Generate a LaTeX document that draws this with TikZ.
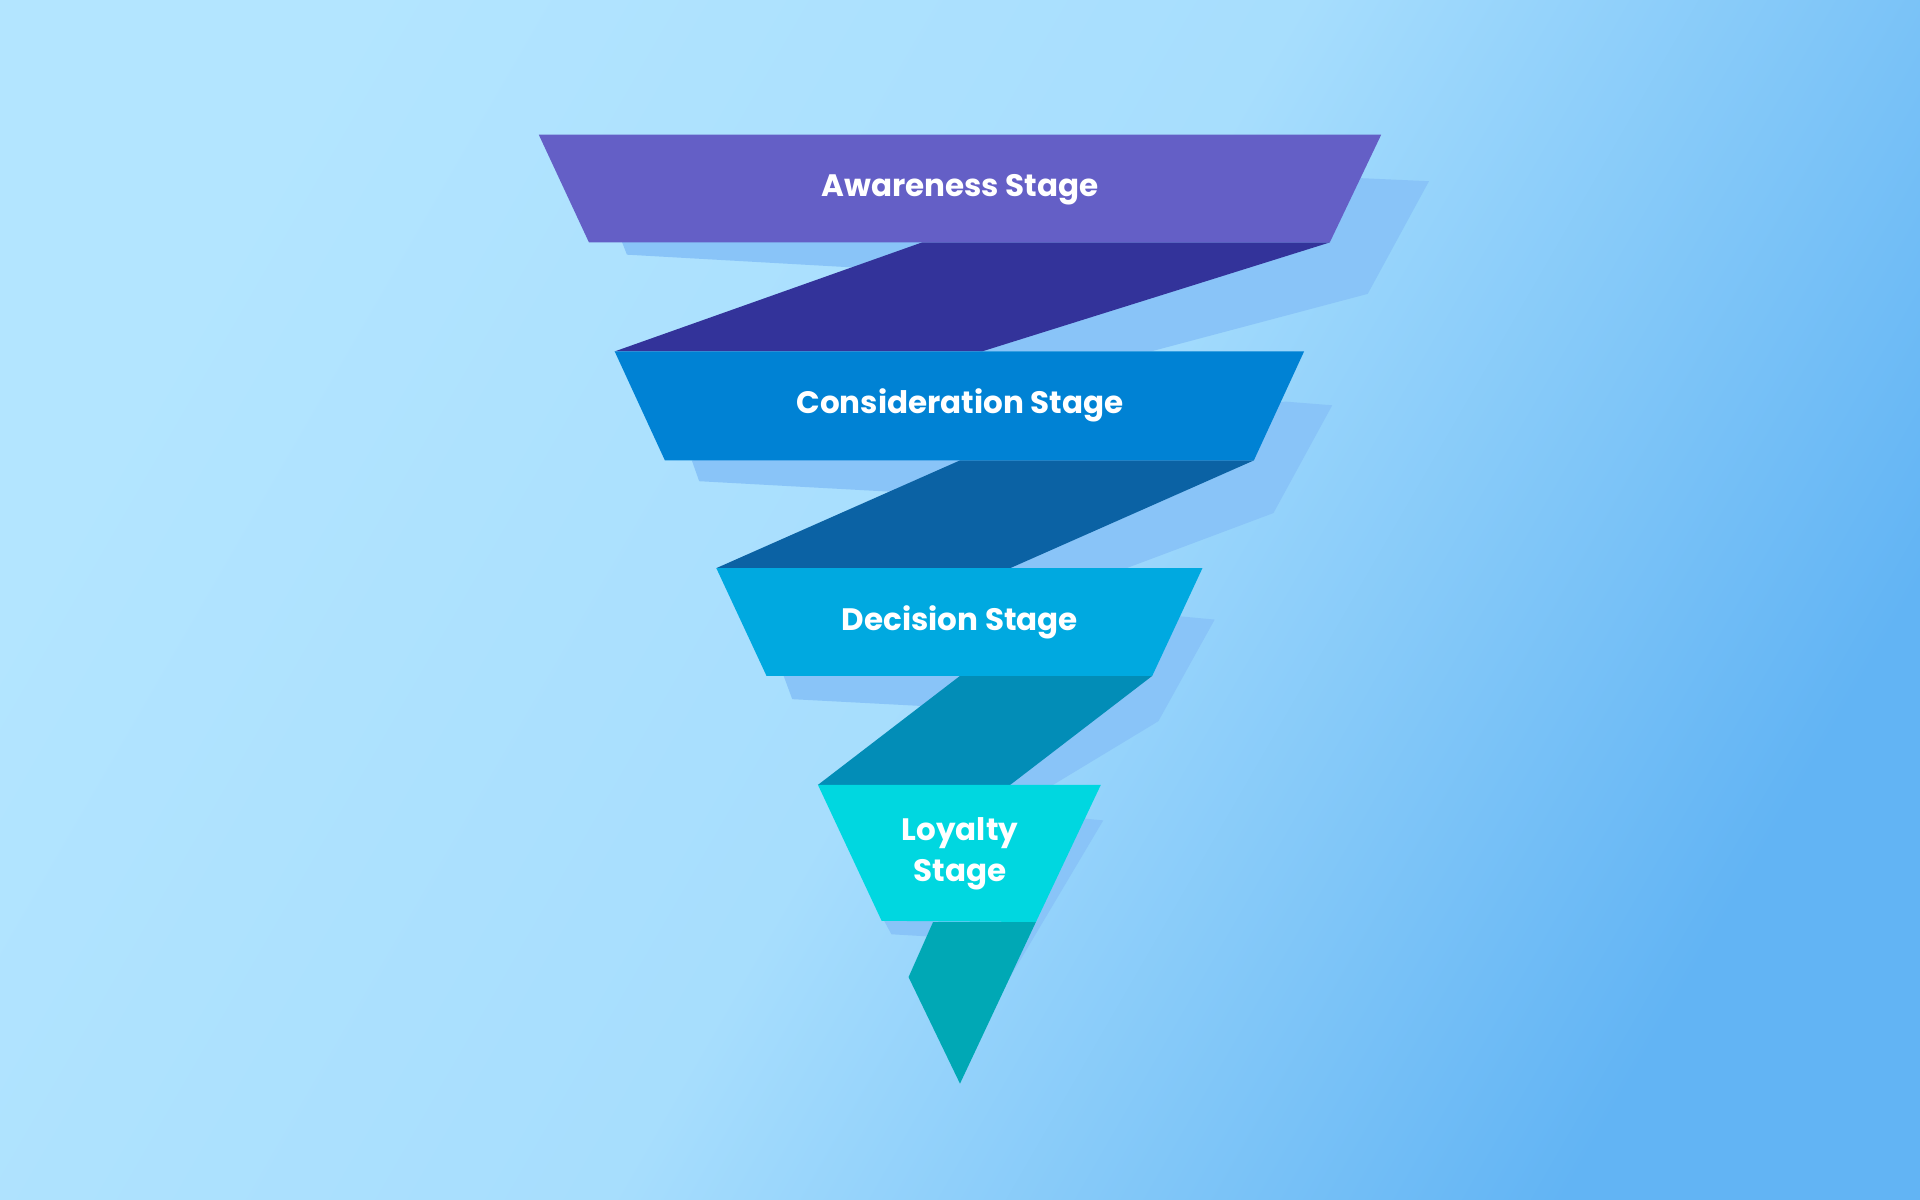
\documentclass[tikz,border=0pt]{standalone}
\usepackage{fontspec}
\setmainfont{Poppins}
\usetikzlibrary{positioning}
\definecolor{bglight}{HTML}{B3E5FF}
\definecolor{bgdark}{HTML}{62B4F4}
\definecolor{shadowblue}{HTML}{89C4F8}
\definecolor{awarecol}{HTML}{645FC6}
\definecolor{awarefold}{HTML}{33339A}
\definecolor{considcol}{HTML}{0082D4}
\definecolor{considfold}{HTML}{0B62A4}
\definecolor{decidecol}{HTML}{00A9E0}
\definecolor{decidefold}{HTML}{028DB7}
\definecolor{loyalcol}{HTML}{00D7E0}
\definecolor{loyalfold}{HTML}{00A8B5}

\begin{document}
\begin{tikzpicture}[x=0.01cm, y=-0.01cm,
        shadowpart/.style={fill=shadowblue},
        label/.style={text=white, font=\bfseries\fontsize{7.2}{9.5}\selectfont, align=center}
    ]
        % Background
        \useasboundingbox (0,0) rectangle (1568,980);
        \shade[shading=axis, left color=bglight, right color=bgdark, middle color=bglight!85!bgdark, shading angle=60] (0,0) rectangle (1568,980);

        % Shadows
        \fill[shadowpart] (505,190) -- (512,208) -- (760,222) -- (800,287) -- (940,287) -- (1117,240) -- (1167,148) -- (1100,145) -- cycle;
        \fill[shadowpart] (565,376) -- (571,393) -- (790,405) -- (823,464) -- (920,464) -- (1040,419) -- (1088,331) -- (1050,328) -- cycle;
        \fill[shadowpart] (640,552) -- (647,571) -- (780,578) -- (823,641) -- (860,641) -- (946,589) -- (992,506) -- (960,503) -- cycle;
        \fill[shadowpart] (722,752) -- (728,763) -- (762,765) -- (800,840) -- (901,670) -- (880,668) -- cycle;

        % Awareness
        \fill[awarefold] (753,198) -- (1086,198) -- (802,287) -- (502,287) -- cycle;
        \fill[awarecol] (440,110) -- (1128,110) -- (1086,198) -- (481,198) -- cycle;
        \node[label] (aware) at (784,155) {Awareness Stage};

        % Consideration
        \fill[considfold] (784,376) -- (1024,376) -- (825,464) -- (585,464) -- cycle;
        \fill[considcol] (502,287) -- (1065,287) -- (1024,376) -- (543,376) -- cycle;
        \node[label] (consid) at (784,331) {Consideration Stage};

        % Decision
        \fill[decidefold] (784,552) -- (941,552) -- (825,641) -- (668,641) -- cycle;
        \fill[decidecol] (585,464) -- (982,464) -- (941,552) -- (626,552) -- cycle;
        \node[label] (decide) at (784,508) {Decision Stage};

        % Loyalty
        \fill[loyalfold] (762,753) -- (846,753) -- (784,885) -- (742,798) -- cycle;
        \fill[loyalcol] (668,641) -- (899,641) -- (846,753) -- (720,752) -- cycle;
        \node[label] (loyal) at (784,697) {Loyalty\\Stage};
    \end{tikzpicture}
\end{document}
